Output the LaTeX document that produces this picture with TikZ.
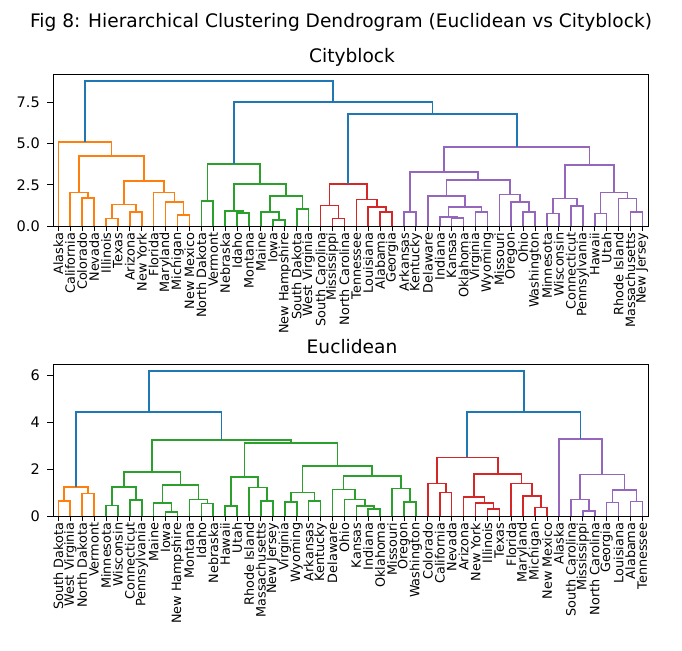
\documentclass[tikz,border=0pt]{standalone}
\usepackage{fontspec}
\setmainfont{DejaVu Sans}
\definecolor{cB}{HTML}{1F77B4}
\definecolor{cO}{HTML}{FF7F0E}
\definecolor{cG}{HTML}{2CA02C}
\definecolor{cR}{HTML}{D62728}
\definecolor{cP}{HTML}{9467BD}
\newcommand\lnk[6]{\draw[link,#6] ({58.3+11.92*#1},#3)--({58.3+11.92*#1},#5)--({58.3+11.92*#2},#5)--({58.3+11.92*#2},#4);}
\newcommand\leaflabels[2]{\foreach \s [count=\i from 0] in {#2} {\node[leaflab] at ({58.3+11.92*\i},#1+6) {\s}; \draw[axisline] ({58.3+11.92*\i},#1)--({58.3+11.92*\i},#1+4.5);}}
\begin{document}
\begin{tikzpicture}[x=1pt,y=-1pt,
  link/.style={line width=1.6pt},
  axisline/.style={line width=0.9pt,black},
  leaflab/.style={rotate=90,anchor=east,inner sep=0.5pt,font=\fontsize{12.8}{13}\selectfont},
  ticklab/.style={anchor=east,inner sep=1pt,font=\fontsize{14.5}{15}\selectfont},
  titlab/.style={font=\fontsize{18.6}{20}\selectfont}]
\useasboundingbox (0,0) rectangle (682,650);
\node[titlab] (t0) at (341,22) {Fig 8: Hierarchical Clustering Dendrogram (Euclidean vs Cityblock)};
\node[titlab] (t1) at (352,57) {Cityblock};
\node[titlab] (t2) at (352,347) {Euclidean};
% ---- top
\def\B{226}
\lnk{2}{3}{\B}{\B}{197.7}{cO}
\lnk{1}{2.5}{\B}{197.7}{192.3}{cO}
\lnk{4}{5}{\B}{\B}{218.3}{cO}
\lnk{6}{7}{\B}{\B}{211.7}{cO}
\lnk{4.5}{6.5}{218.3}{211.7}{204.3}{cO}
\lnk{10}{11}{\B}{\B}{215}{cO}
\lnk{9}{10.5}{\B}{215}{201.7}{cO}
\lnk{8}{9.75}{\B}{201.7}{192.3}{cO}
\lnk{5.5}{8.875}{204.3}{192.3}{181}{cO}
\lnk{1.75}{7.19}{192.3}{181}{156}{cO}
\lnk{0}{4.47}{\B}{156}{141.7}{cO}
\lnk{12}{13}{\B}{\B}{201}{cG}
\lnk{15}{16}{\B}{\B}{212.7}{cG}
\lnk{14}{15.5}{\B}{212.7}{211}{cG}
\lnk{18}{19}{\B}{\B}{220}{cG}
\lnk{17}{18.5}{\B}{220}{211.7}{cG}
\lnk{20}{21}{\B}{\B}{208.7}{cG}
\lnk{17.75}{20.5}{211.7}{208.7}{196}{cG}
\lnk{14.75}{19.125}{211}{196}{184}{cG}
\lnk{12.5}{16.94}{201}{184}{163.7}{cG}
\lnk{23}{24}{\B}{\B}{218.3}{cR}
\lnk{22}{23.5}{\B}{218.3}{205.3}{cR}
\lnk{27}{28}{\B}{\B}{211.7}{cR}
\lnk{26}{27.5}{\B}{211.7}{206.7}{cR}
\lnk{25}{26.75}{\B}{206.7}{199.3}{cR}
\lnk{22.75}{25.875}{205.3}{199.3}{183.7}{cR}
\lnk{29}{30}{\B}{\B}{211.7}{cP}
\lnk{33}{34}{\B}{\B}{217.7}{cP}
\lnk{32}{33.5}{\B}{217.7}{216.7}{cP}
\lnk{35}{36}{\B}{\B}{211.7}{cP}
\lnk{32.75}{35.5}{216.7}{211.7}{206.7}{cP}
\lnk{31}{34.125}{\B}{206.7}{195.7}{cP}
\lnk{39}{40}{\B}{\B}{211.7}{cP}
\lnk{38}{39.5}{\B}{211.7}{201.7}{cP}
\lnk{37}{38.75}{\B}{201.7}{194.3}{cP}
\lnk{32.56}{37.875}{195.7}{194.3}{180}{cP}
\lnk{29.5}{35.22}{211.7}{180}{171.7}{cP}
\lnk{41}{42}{\B}{\B}{213.3}{cP}
\lnk{43}{44}{\B}{\B}{206}{cP}
\lnk{41.5}{43.5}{213.3}{206}{198.3}{cP}
\lnk{45}{46}{\B}{\B}{213.3}{cP}
\lnk{48}{49}{\B}{\B}{211.7}{cP}
\lnk{47}{48.5}{\B}{211.7}{198.3}{cP}
\lnk{45.5}{47.75}{213.3}{198.3}{192.3}{cP}
\lnk{42.5}{46.625}{198.3}{192.3}{165}{cP}
\lnk{32.36}{44.56}{171.7}{165}{146.7}{cP}
\lnk{24.31}{38.46}{183.7}{146.7}{114}{cB}
\lnk{14.72}{31.39}{163.7}{114}{102.3}{cB}
\lnk{2.23}{23.05}{141.7}{102.3}{81}{cB}
\draw[axisline] (53,74) rectangle (648,226);
\foreach \v/\t in {0/0.0,2.5/2.5,5/5.0,7.5/7.5} {\draw[axisline] (53,226-16.5*\v)--(47,226-16.5*\v); \node[ticklab] at (41,226-16.5*\v) {\t};}
\leaflabels{226}{Alaska,California,Colorado,Nevada,Illinois,Texas,Arizona,New York,Florida,Maryland,Michigan,New Mexico,North Dakota,Vermont,Nebraska,Idaho,Montana,Maine,Iowa,New Hampshire,South Dakota,West Virginia,South Carolina,Mississippi,North Carolina,Tennessee,Louisiana,Alabama,Georgia,Arkansas,Kentucky,Delaware,Indiana,Kansas,Oklahoma,Virginia,Wyoming,Missouri,Oregon,Ohio,Washington,Minnesota,Wisconsin,Connecticut,Pennsylvania,Hawaii,Utah,Rhode Island,Massachusetts,New Jersey}
% ---- bottom
\def\B{516}
\lnk{0}{1}{\B}{\B}{500.7}{cO}
\lnk{2}{3}{\B}{\B}{493.3}{cO}
\lnk{0.5}{2.5}{500.7}{493.3}{486.7}{cO}
\lnk{4}{5}{\B}{\B}{505.3}{cG}
\lnk{6}{7}{\B}{\B}{500}{cG}
\lnk{4.5}{6.5}{505.3}{500}{487}{cG}
\lnk{9}{10}{\B}{\B}{511.7}{cG}
\lnk{8}{9.5}{\B}{511.7}{502.7}{cG}
\lnk{12}{13}{\B}{\B}{503.3}{cG}
\lnk{11}{12.5}{\B}{503.3}{499.3}{cG}
\lnk{8.75}{11.75}{502.7}{499.3}{484.7}{cG}
\lnk{5.5}{10.25}{487}{484.7}{471.7}{cG}
\lnk{14}{15}{\B}{\B}{505.7}{cG}
\lnk{17}{18}{\B}{\B}{500.7}{cG}
\lnk{16}{17.5}{\B}{500.7}{487.3}{cG}
\lnk{14.5}{16.75}{505.7}{487.3}{476.7}{cG}
\lnk{19}{20}{\B}{\B}{501.7}{cG}
\lnk{21}{22}{\B}{\B}{500.7}{cG}
\lnk{19.5}{21.5}{501.7}{500.7}{492.3}{cG}
\lnk{26}{27}{\B}{\B}{509}{cG}
\lnk{25}{26.5}{\B}{509}{506}{cG}
\lnk{24}{25.75}{\B}{506}{499.3}{cG}
\lnk{23}{24.875}{\B}{499.3}{489.3}{cG}
\lnk{29}{30}{\B}{\B}{501.7}{cG}
\lnk{28}{29.5}{\B}{501.7}{488.3}{cG}
\lnk{23.94}{28.75}{489.3}{488.3}{476}{cG}
\lnk{20.5}{26.34}{492.3}{476}{466}{cG}
\lnk{15.625}{23.42}{476.7}{466}{442.7}{cG}
\lnk{7.875}{19.52}{471.7}{442.7}{440}{cG}
\lnk{32}{33}{\B}{\B}{492.3}{cR}
\lnk{31}{32.5}{\B}{492.3}{483.3}{cR}
\lnk{36}{37}{\B}{\B}{509}{cR}
\lnk{35}{36.5}{\B}{509}{502.7}{cR}
\lnk{34}{35.75}{\B}{502.7}{496.7}{cR}
\lnk{40}{41}{\B}{\B}{507.3}{cR}
\lnk{39}{40.5}{\B}{507.3}{495.7}{cR}
\lnk{38}{39.75}{\B}{495.7}{483.3}{cR}
\lnk{34.875}{38.875}{496.7}{483.3}{474}{cR}
\lnk{31.75}{36.875}{483.3}{474}{457.3}{cR}
\lnk{44}{45}{\B}{\B}{510.7}{cP}
\lnk{43}{44.5}{\B}{510.7}{499.3}{cP}
\lnk{46}{47}{\B}{\B}{502.3}{cP}
\lnk{48}{49}{\B}{\B}{501.3}{cP}
\lnk{46.5}{48.5}{502.3}{501.3}{490}{cP}
\lnk{43.75}{47.5}{499.3}{490}{474.3}{cP}
\lnk{42}{45.625}{\B}{474.3}{439}{cP}
\lnk{1.5}{13.7}{486.7}{440}{411.7}{cB}
\lnk{34.31}{43.81}{457.3}{439}{411.7}{cB}
\lnk{7.6}{39.06}{411.7}{411.7}{371}{cB}
\draw[axisline] (53,364) rectangle (648,516);
\foreach \v in {0,2,4,6} {\draw[axisline] (53,516-23.4*\v)--(47,516-23.4*\v); \node[ticklab] at (41,516-23.4*\v) {\v};}
\leaflabels{516}{South Dakota,West Virginia,North Dakota,Vermont,Minnesota,Wisconsin,Connecticut,Pennsylvania,Maine,Iowa,New Hampshire,Montana,Idaho,Nebraska,Hawaii,Utah,Rhode Island,Massachusetts,New Jersey,Virginia,Wyoming,Arkansas,Kentucky,Delaware,Ohio,Kansas,Indiana,Oklahoma,Missouri,Oregon,Washington,Colorado,California,Nevada,Arizona,New York,Illinois,Texas,Florida,Maryland,Michigan,New Mexico,Alaska,South Carolina,Mississippi,North Carolina,Georgia,Louisiana,Alabama,Tennessee}
\end{tikzpicture}
\end{document}
